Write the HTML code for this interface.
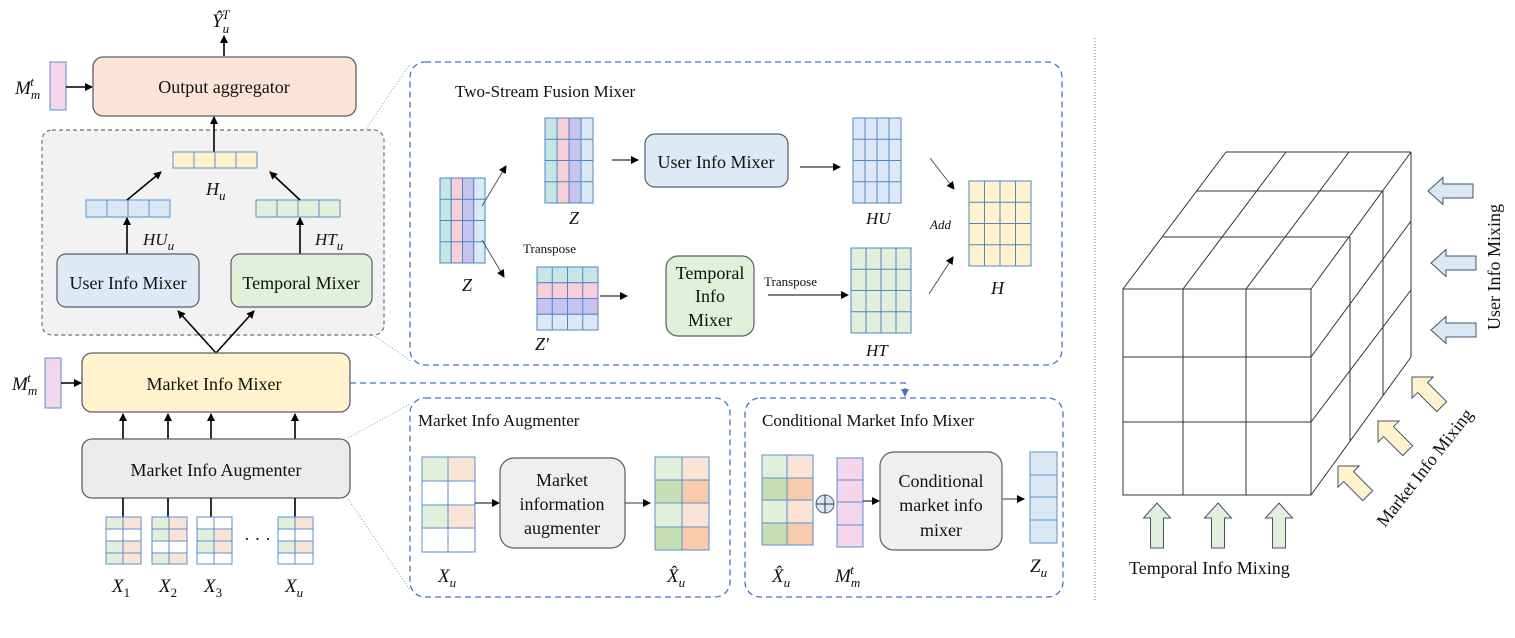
<!DOCTYPE html>
<html><head><meta charset="utf-8"><style>
html,body{margin:0;padding:0;background:#fff;}
svg{display:block;}
text{font-family:"Liberation Serif",serif;fill:#111;}
.m{font-style:italic;}
</style></head><body>
<svg width="1515" height="638" viewBox="0 0 1515 638" xmlns="http://www.w3.org/2000/svg">
<defs>
<marker id="ah" markerWidth="8" markerHeight="8" refX="7" refY="4" orient="auto" markerUnits="userSpaceOnUse"><path d="M0,0 L8,4 L0,8 z" fill="#000"/></marker>
<marker id="ab" markerWidth="8" markerHeight="8" refX="7" refY="4" orient="auto" markerUnits="userSpaceOnUse"><path d="M0,0 L8,4 L0,8 z" fill="#4472c4"/></marker>
</defs>

<line x1="1095" y1="38" x2="1095" y2="600" stroke="#777" stroke-dasharray="1,2"/>

<!-- ===== LEFT ===== -->
<text x="212" y="27" class="m" font-size="19">Ŷ<tspan font-size="13" dy="6">u</tspan><tspan font-size="13" dx="-7" dy="-14">T</tspan></text>
<line x1="224" y1="56" x2="224" y2="36" stroke="#000" stroke-width="1.6" marker-end="url(#ah)"/>

<text x="15" y="94" class="m" font-size="19">M<tspan font-size="13" dy="5">m</tspan><tspan font-size="13" dx="-10" dy="-13">t</tspan></text>
<rect x="50" y="62" width="16" height="48" fill="#f5d6ec" stroke="#5b8fd0"/>
<line x1="66" y1="87" x2="92" y2="87" stroke="#000" stroke-width="1.6" marker-end="url(#ah)"/>
<rect x="93" y="57" width="263" height="59" rx="10" fill="#fbe4d6" stroke="#555f6b" stroke-width="1.3"/>
<text x="224" y="93" font-size="18" text-anchor="middle">Output aggregator</text>

<rect x="42" y="130" width="342" height="205" rx="10" fill="#f2f2f2" stroke="#6b7380" stroke-dasharray="4,3" stroke-width="1.2"/>
<line x1="214" y1="152" x2="214" y2="117" stroke="#000" stroke-width="1.6" marker-end="url(#ah)"/>
<rect x="173" y="152" width="84" height="16" fill="#fff2cc" stroke="#5b8fd0"/>
<path d="M194 152v16M215 152v16M236 152v16" stroke="#5b8fd0"/>
<text x="206" y="195" class="m" font-size="18">H<tspan font-size="13" dy="5">u</tspan></text>
<rect x="86" y="200" width="84" height="17" fill="#dae8f5" stroke="#5b8fd0"/>
<path d="M107 200v17M128 200v17M149 200v17" stroke="#5b8fd0"/>
<text x="143" y="245" class="m" font-size="17">HU<tspan font-size="13" dy="5">u</tspan></text>
<rect x="256" y="200" width="84" height="17" fill="#e2efda" stroke="#5b8fd0"/>
<path d="M277 200v17M298 200v17M319 200v17" stroke="#5b8fd0"/>
<text x="315" y="245" class="m" font-size="17">HT<tspan font-size="13" dy="5">u</tspan></text>
<line x1="127" y1="200" x2="161" y2="172" stroke="#000" stroke-width="1.6" marker-end="url(#ah)"/>
<line x1="300" y1="200" x2="270" y2="172" stroke="#000" stroke-width="1.6" marker-end="url(#ah)"/>
<line x1="127" y1="254" x2="127" y2="218" stroke="#000" stroke-width="1.6" marker-end="url(#ah)"/>
<line x1="300" y1="254" x2="300" y2="218" stroke="#000" stroke-width="1.6" marker-end="url(#ah)"/>
<rect x="57" y="254" width="142" height="53" rx="9" fill="#dde9f6" stroke="#555f6b" stroke-width="1.2"/>
<text x="128" y="289" font-size="18" text-anchor="middle">User Info Mixer</text>
<rect x="231" y="254" width="141" height="53" rx="9" fill="#e2efd9" stroke="#555f6b" stroke-width="1.2"/>
<text x="301" y="289" font-size="18" text-anchor="middle">Temporal Mixer</text>
<line x1="216" y1="353" x2="178" y2="311" stroke="#000" stroke-width="1.6" marker-end="url(#ah)"/>
<line x1="216" y1="353" x2="254" y2="311" stroke="#000" stroke-width="1.6" marker-end="url(#ah)"/>

<text x="12" y="390" class="m" font-size="19">M<tspan font-size="13" dy="5">m</tspan><tspan font-size="13" dx="-10" dy="-13">t</tspan></text>
<rect x="45" y="358" width="16" height="50" fill="#f5d6ec" stroke="#5b8fd0"/>
<line x1="61" y1="383" x2="81" y2="383" stroke="#000" stroke-width="1.6" marker-end="url(#ah)"/>
<rect x="82" y="353" width="268" height="59" rx="10" fill="#fff2cc" stroke="#555f6b" stroke-width="1.3"/>
<text x="214" y="390" font-size="18" text-anchor="middle">Market Info Mixer</text>
<g stroke="#000" stroke-width="1.6" marker-end="url(#ah)">
<line x1="123" y1="439" x2="123" y2="414"/><line x1="168" y1="439" x2="168" y2="414"/><line x1="211" y1="439" x2="211" y2="414"/><line x1="295" y1="439" x2="295" y2="414"/>
</g>
<rect x="82" y="439" width="268" height="59" rx="10" fill="#ececec" stroke="#555f6b" stroke-width="1.3"/>
<text x="216" y="476" font-size="18" text-anchor="middle">Market Info Augmenter</text>
<path d="M123 498v19M168 498v19M211 498v19M295 498v19" stroke="#000" stroke-width="1.6"/>
<g stroke="#5b8fd0">
<rect x="106" y="517" width="17" height="12" fill="#e2efda"/><rect x="123" y="517" width="18" height="12" fill="#fbe4d6"/>
<rect x="106" y="529" width="35" height="12" fill="#fff"/>
<rect x="106" y="541" width="17" height="12" fill="#e2efda"/><rect x="123" y="541" width="18" height="12" fill="#fbe4d6"/>
<rect x="106" y="553" width="17" height="11" fill="#e2efda"/><rect x="123" y="553" width="18" height="11" fill="#fbe4d6"/>
<path d="M123 529v12" />
<rect x="152" y="517" width="17" height="12" fill="#e2efda"/><rect x="169" y="517" width="18" height="12" fill="#fbe4d6"/>
<rect x="152" y="529" width="17" height="12" fill="#e2efda"/><rect x="169" y="529" width="18" height="12" fill="#fbe4d6"/>
<rect x="152" y="541" width="35" height="12" fill="#fff"/>
<rect x="152" y="553" width="17" height="11" fill="#e2efda"/><rect x="169" y="553" width="18" height="11" fill="#fbe4d6"/>
<path d="M169 541v12"/>
<rect x="197" y="517" width="35" height="12" fill="#fff"/><path d="M214 517v12"/>
<rect x="197" y="529" width="17" height="12" fill="#e2efda"/><rect x="214" y="529" width="18" height="12" fill="#fbe4d6"/>
<rect x="197" y="541" width="17" height="12" fill="#e2efda"/><rect x="214" y="541" width="18" height="12" fill="#fbe4d6"/>
<rect x="197" y="553" width="35" height="11" fill="#fff"/><path d="M214 553v11"/>
<rect x="278" y="517" width="17" height="12" fill="#e2efda"/><rect x="295" y="517" width="18" height="12" fill="#fbe4d6"/>
<rect x="278" y="529" width="35" height="12" fill="#fff"/><path d="M295 529v12"/>
<rect x="278" y="541" width="17" height="12" fill="#e2efda"/><rect x="295" y="541" width="18" height="12" fill="#fbe4d6"/>
<rect x="278" y="553" width="35" height="11" fill="#fff"/><path d="M295 553v11"/>
</g>
<text x="244" y="545" font-size="18">· · ·</text>
<text x="112" y="592" class="m" font-size="19">X<tspan font-size="13" dy="5" font-style="normal">1</tspan></text>
<text x="159" y="592" class="m" font-size="19">X<tspan font-size="13" dy="5" font-style="normal">2</tspan></text>
<text x="204" y="592" class="m" font-size="19">X<tspan font-size="13" dy="5" font-style="normal">3</tspan></text>
<text x="285" y="592" class="m" font-size="19">X<tspan font-size="13" dy="5">u</tspan></text>

<g stroke="#8a9ab0" stroke-dasharray="1,2" fill="none">
<line x1="366" y1="129" x2="410" y2="64"/>
<line x1="375" y1="336" x2="412" y2="362"/>
<line x1="348" y1="438" x2="410" y2="404"/>
<line x1="348" y1="499" x2="410" y2="590"/>
</g>
<path d="M350 383H905V396" stroke="#4472c4" stroke-width="1.3" stroke-dasharray="6,4" fill="none" marker-end="url(#ab)"/>

<!-- ===== TWO-STREAM ===== -->
<rect x="410" y="62" width="652" height="303" rx="15" fill="none" stroke="#4472c4" stroke-width="1.3" stroke-dasharray="6,4"/>
<text x="455" y="97" font-size="17">Two-Stream Fusion Mixer</text>
<g stroke="#4f86c6">
<rect x="440" y="178" width="11.25" height="85" fill="#c5e6e3"/>
<rect x="451.25" y="178" width="11.25" height="85" fill="#f8cfd6"/>
<rect x="462.5" y="178" width="11.25" height="85" fill="#c7c3ee"/>
<rect x="473.75" y="178" width="11.25" height="85" fill="#dbe8f5"/>
<path d="M440 199.25h45M440 220.5h45M440 241.75h45" fill="none"/>
</g>
<text x="462" y="291" class="m" font-size="18">Z</text>
<line x1="482" y1="206" x2="506" y2="166" stroke="#555" marker-end="url(#ah)"/>
<line x1="482" y1="240" x2="504" y2="277" stroke="#555" marker-end="url(#ah)"/>
<text x="523" y="253" font-size="13">Transpose</text>
<g stroke="#4f86c6">
<rect x="545" y="118" width="12" height="85" fill="#c5e6e3"/>
<rect x="557" y="118" width="12" height="85" fill="#f8cfd6"/>
<rect x="569" y="118" width="12" height="85" fill="#c7c3ee"/>
<rect x="581" y="118" width="12" height="85" fill="#dbe8f5"/>
<path d="M545 139.25h48M545 160.5h48M545 181.75h48" fill="none"/>
</g>
<text x="569" y="224" class="m" font-size="18">Z</text>
<line x1="612" y1="160" x2="638" y2="160" stroke="#000" marker-end="url(#ah)"/>
<rect x="645" y="134" width="143" height="53" rx="10" fill="#dde9f6" stroke="#555f6b" stroke-width="1.2"/>
<text x="716" y="168" font-size="18" text-anchor="middle">User Info Mixer</text>
<line x1="800" y1="167" x2="840" y2="167" stroke="#000" marker-end="url(#ah)"/>
<g stroke="#4f86c6" fill="none">
<rect x="853" y="118" width="48" height="85" fill="#dce8f5"/>
<path d="M865 118v85M877 118v85M889 118v85M853 139.25h48M853 160.5h48M853 181.75h48"/>
</g>
<text x="866" y="224" class="m" font-size="17">HU</text>
<g stroke="#4f86c6">
<rect x="537" y="267" width="61" height="15.75" fill="#c5e6e3"/>
<rect x="537" y="282.75" width="61" height="15.75" fill="#f8cfd6"/>
<rect x="537" y="298.5" width="61" height="15.75" fill="#c7c3ee"/>
<rect x="537" y="314.25" width="61" height="15.75" fill="#dbe8f5"/>
<path d="M552.25 267v63M567.5 267v63M582.75 267v63" fill="none"/>
</g>
<text x="535" y="350" class="m" font-size="18">Z′</text>
<line x1="600" y1="296" x2="627" y2="296" stroke="#000" marker-end="url(#ah)"/>
<rect x="666" y="256" width="88" height="80" rx="12" fill="#e2efd9" stroke="#555f6b" stroke-width="1.2"/>
<text x="710" y="279" font-size="18" text-anchor="middle">Temporal</text>
<text x="710" y="302" font-size="18" text-anchor="middle">Info</text>
<text x="710" y="326" font-size="18" text-anchor="middle">Mixer</text>
<text x="764" y="286" font-size="13">Transpose</text>
<line x1="768" y1="295" x2="848" y2="295" stroke="#000" marker-end="url(#ah)"/>
<g stroke="#4f86c6" fill="none">
<rect x="851" y="248" width="60" height="85" fill="#e2efda"/>
<path d="M866 248v85M881 248v85M896 248v85M851 269.25h60M851 290.5h60M851 311.75h60"/>
</g>
<text x="866" y="356" class="m" font-size="17">HT</text>
<line x1="930" y1="158" x2="954" y2="189" stroke="#555" marker-end="url(#ah)"/>
<line x1="929" y1="294" x2="953" y2="257" stroke="#555" marker-end="url(#ah)"/>
<text x="930" y="229" class="m" font-size="13">Add</text>
<g stroke="#4f86c6" fill="none">
<rect x="969" y="181" width="62" height="85" fill="#fff2cc"/>
<path d="M984.5 181v85M1000 181v85M1015.5 181v85M969 202.25h62M969 223.5h62M969 244.75h62"/>
</g>
<text x="991" y="294" class="m" font-size="18">H</text>

<!-- ===== MARKET INFO AUGMENTER ===== -->
<rect x="410" y="398" width="320" height="199" rx="15" fill="none" stroke="#4472c4" stroke-width="1.3" stroke-dasharray="6,4"/>
<text x="418" y="426" font-size="17">Market Info Augmenter</text>
<g stroke="#5b8fd0">
<rect x="422" y="457" width="26" height="24" fill="#e2efda"/><rect x="448" y="457" width="27" height="24" fill="#fbe4d6"/>
<rect x="422" y="481" width="26" height="24" fill="#fff"/><rect x="448" y="481" width="27" height="24" fill="#fff"/>
<rect x="422" y="505" width="26" height="23" fill="#e2efda"/><rect x="448" y="505" width="27" height="23" fill="#fbe4d6"/>
<rect x="422" y="528" width="26" height="24" fill="#fff"/><rect x="448" y="528" width="27" height="24" fill="#fff"/>
</g>
<text x="438" y="582" class="m" font-size="19">X<tspan font-size="13" dy="5">u</tspan></text>
<line x1="475" y1="503" x2="499" y2="503" stroke="#000" marker-end="url(#ah)"/>
<rect x="500" y="458" width="125" height="90" rx="14" fill="#efefef" stroke="#555f6b" stroke-width="1.2"/>
<text x="562" y="486" font-size="18" text-anchor="middle">Market</text>
<text x="562" y="510" font-size="18" text-anchor="middle">information</text>
<text x="562" y="534" font-size="18" text-anchor="middle">augmenter</text>
<line x1="625" y1="503" x2="650" y2="503" stroke="#333" marker-end="url(#ah)"/>
<g stroke="#5b8fd0">
<rect x="655" y="457" width="27" height="23" fill="#e2efda"/><rect x="682" y="457" width="27" height="23" fill="#fbe4d6"/>
<rect x="655" y="480" width="27" height="23" fill="#c6e0b4"/><rect x="682" y="480" width="27" height="23" fill="#f8cbad"/>
<rect x="655" y="503" width="27" height="24" fill="#e2efda"/><rect x="682" y="503" width="27" height="24" fill="#fbe4d6"/>
<rect x="655" y="527" width="27" height="23" fill="#c6e0b4"/><rect x="682" y="527" width="27" height="23" fill="#f8cbad"/>
</g>
<text x="667" y="582" class="m" font-size="19">X̂<tspan font-size="13" dy="5">u</tspan></text>

<!-- ===== CONDITIONAL ===== -->
<rect x="745" y="398" width="318" height="199" rx="15" fill="none" stroke="#4472c4" stroke-width="1.3" stroke-dasharray="6,4"/>
<text x="762" y="426" font-size="17">Conditional Market Info Mixer</text>
<g stroke="#5b8fd0">
<rect x="762" y="455" width="25" height="23" fill="#e2efda"/><rect x="787" y="455" width="26" height="23" fill="#fbe4d6"/>
<rect x="762" y="478" width="25" height="22" fill="#c6e0b4"/><rect x="787" y="478" width="26" height="22" fill="#f8cbad"/>
<rect x="762" y="500" width="25" height="23" fill="#e2efda"/><rect x="787" y="500" width="26" height="23" fill="#fbe4d6"/>
<rect x="762" y="523" width="25" height="22" fill="#c6e0b4"/><rect x="787" y="523" width="26" height="22" fill="#f8cbad"/>
</g>
<circle cx="825" cy="504" r="9" fill="#dae8f5" stroke="#555f6b"/>
<path d="M816 504h18M825 495v18" stroke="#333"/>
<g stroke="#5b8fd0" fill="#f5d6ec">
<rect x="837" y="458" width="26" height="89"/>
<path d="M837 480h26M837 502h26M837 525h26" fill="none"/>
</g>
<line x1="863" y1="501" x2="879" y2="501" stroke="#000" marker-end="url(#ah)"/>
<rect x="880" y="452" width="122" height="98" rx="14" fill="#efefef" stroke="#555f6b" stroke-width="1.2"/>
<text x="941" y="487" font-size="18" text-anchor="middle">Conditional</text>
<text x="941" y="511" font-size="18" text-anchor="middle">market info</text>
<text x="941" y="536" font-size="18" text-anchor="middle">mixer</text>
<line x1="1003" y1="499" x2="1024" y2="499" stroke="#333" marker-end="url(#ah)"/>
<g stroke="#5b8fd0" fill="#dae8f5">
<rect x="1030" y="452" width="27" height="91"/>
<path d="M1030 475h27M1030 497h27M1030 520h27" fill="none"/>
</g>
<text x="772" y="582" class="m" font-size="19">X̂<tspan font-size="13" dy="5">u</tspan></text>
<text x="835" y="582" class="m" font-size="19">M<tspan font-size="13" dy="5">m</tspan><tspan font-size="13" dx="-10" dy="-13">t</tspan></text>
<text x="1030" y="572" class="m" font-size="19">Z<tspan font-size="13" dy="5">u</tspan></text>

<!-- ===== CUBE ===== -->
<g stroke="#333" stroke-width="1" fill="none">
<rect x="1123" y="289" width="188" height="206" fill="#fff"/>
<path d="M1183 289v206M1246 289v206M1123 357h188M1123 422h188"/>
<path d="M1163 237h187M1196 191h187M1226 152h185"/>
<path d="M1123 289L1226 152M1183 289L1286 152M1246 289L1349 152M1311 289L1411 152"/>
<path d="M1350 237V441M1383 191V395M1411 152V357"/>
<path d="M1311 357L1411 221M1311 422L1411 290M1311 495L1411 357"/>
</g>
<!-- blue arrows (left) -->
<g fill="#dae8f5" stroke="#44546a" stroke-width="1">
<path d="M1428 191l15-13.5v6.5h30v14h-30v6.5z"/>
<path d="M1431 263l15-13.5v6.5h30v14h-30v6.5z"/>
<path d="M1431 330l15-13.5v6.5h30v14h-30v6.5z"/>
</g>
<!-- yellow diagonal arrows -->
<g fill="#fff2cc" stroke="#44546a" stroke-width="1">
<path d="M0 0L15 15H7V42H-7V15H-15Z" transform="translate(1412,377) rotate(-45)"/>
<path d="M0 0L15 15H7V42H-7V15H-15Z" transform="translate(1378,421) rotate(-45)"/>
<path d="M0 0L15 15H7V42H-7V15H-15Z" transform="translate(1338,466) rotate(-45)"/>
</g>
<!-- green up arrows -->
<g fill="#e2efda" stroke="#44546a" stroke-width="1">
<path d="M1157 503l13.5 15h-7v30h-13v-30h-7z"/>
<path d="M1218 503l13.5 15h-7v30h-13v-30h-7z"/>
<path d="M1279 503l13.5 15h-7v30h-13v-30h-7z"/>
</g>
<text x="1129" y="574" font-size="18">Temporal Info Mixing</text>
<text transform="translate(1500,330) rotate(-90)" font-size="18">User Info Mixing</text>
<text transform="translate(1385,528) rotate(-52)" font-size="18">Market Info Mixing</text>
</svg>
</body></html>
